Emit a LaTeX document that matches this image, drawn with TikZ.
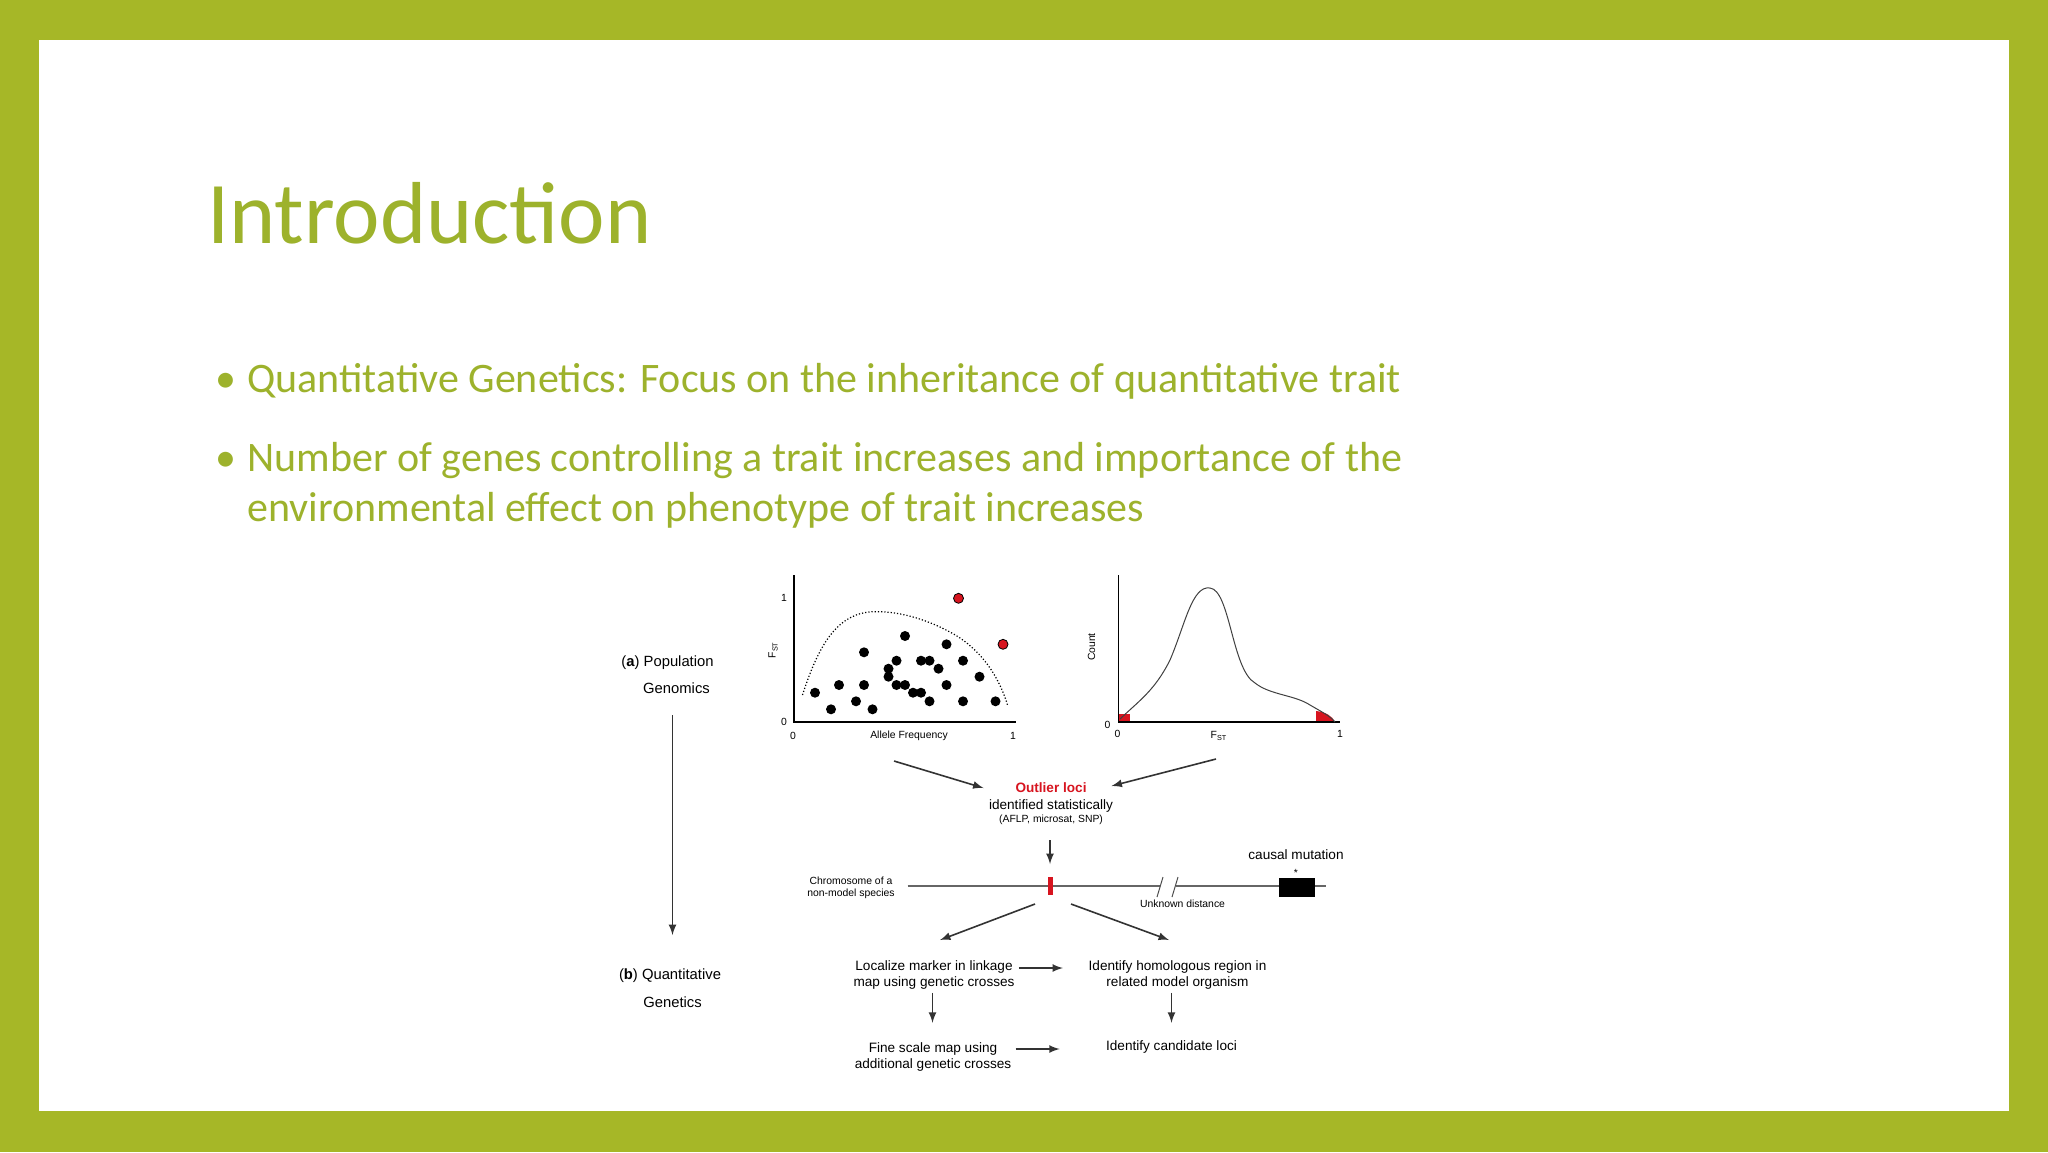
\documentclass[tikz,border=0pt]{standalone}
\usepackage{fontspec}
\setmainfont{Carlito}
\newfontfamily\arialf{Liberation Sans}
\definecolor{frame}{HTML}{A6B727}
\definecolor{gtext}{HTML}{9DB22C}
\definecolor{outred}{HTML}{D7141F}
\tikzset{
  lab/.style={font=\arialf\fontsize{6.8}{8}\selectfont, align=center, inner sep=0pt},
  small/.style={font=\arialf\fontsize{5.2}{6.2}\selectfont, align=center, inner sep=0pt},
  big/.style={font=\arialf\fontsize{7.4}{9}\selectfont, align=center, inner sep=0pt},
  arr/.style={-latex, thick, black!80},
  dot/.style={circle, fill=black, inner sep=0pt, minimum size=5pt},
  rdot/.style={circle, fill=outred, draw=black, line width=0.4pt, inner sep=0pt, minimum size=5pt},
  bul/.style={font=\fontsize{21}{25}\selectfont, text=gtext, anchor=base west, inner sep=0pt, align=left}
}
\begin{document}
\begin{tikzpicture}[x=0.5pt,y=-0.5pt]
\fill[frame] (0,0) rectangle (2048,1152);
\fill[white] (39,40) rectangle (2009,1111);
% title and bullets
\node[anchor=base west, inner sep=0pt, text=gtext, font=\fontsize{44}{50}\selectfont] (title) at (207,243) {Introduction};
\node[bul] (b1d) at (215,392) {•};
\node[bul] (b1) at (247,392) {Quantitative Genetics: Focus on the inheritance of quantitative trait};
\node[bul] (b2d) at (215,471) {•};
\node[bul] (b2) at (247,471) {Number of genes controlling a trait increases and importance of the};
\node[bul] (b2b) at (247,521) {environmental effect on phenotype of trait increases};
% left labels
\node[big] (pa) at (667.5,663) {(\textbf{a}) Population};
\node[big] (pg) at (676.5,688) {Genomics};
\node[big] (qa) at (670,976) {(\textbf{b}) Quantitative};
\node[big] (qg) at (672.5,1002) {Genetics};
\coordinate (vtop) at (672.5,715);
\coordinate (vbot) at (672.5,935);
\draw[arr] (vtop) -- (vbot);
% scatter plot
\draw[line width=0.6pt] (794,575) -- (794,722) -- (1016,722);
\node[small] (t1) at (784,598) {1};
\node[small] (t0) at (784,722) {0};
\node[small] (x0) at (793,736) {0};
\node[small] (x1) at (1013,736) {1};
\node[small] (af) at (909,736) {Allele Frequency};
\node[small, rotate=90] (fst) at (773,650) {F\textsubscript{ST}};
\draw[densely dotted, line width=0.6pt] (802.5,695) .. controls (820,640) and (840,612) .. (875,611.7) .. controls (910,611) and (945,628) .. (960,638) .. controls (985,655) and (1000,680) .. (1007.5,705);
\foreach \p in {(815,692.7),(831,709.3),(839,685),(856,701.3),(864,652.3),(864,685),(872.5,709.3),(905,636),(896.5,660.7),(888.5,668.7),(888.5,676.7),(896.5,685),(905,685),(913,692.7),(921,692.7),(921,660.7),(929.5,660.7),(929.5,701.3),(938.5,668.7),(946.5,644.3),(946.5,685),(963,660.7),(963,701.3),(979.5,676.7),(995.5,701.3)}
  \node[dot] at \p {};
\node[rdot] (r1) at (958.5,598.3) {};
\node[rdot] (r2) at (1003,644.3) {};
% histogram
\fill[outred] (1118.5,714) rectangle (1130,722);
\fill[outred] (1316,722) -- (1316,711) .. controls (1326,712) and (1332,716) .. (1335,722) -- cycle;
\draw[line width=0.6pt] (1118.5,575) -- (1118.5,722) -- (1340,722);
\draw[line width=0.5pt, black!75] (1120,719) .. controls (1140,700) and (1155,690) .. (1170,660) .. controls (1185,625) and (1192,585) .. (1210,588) .. controls (1230,590) and (1232,670) .. (1255,683) .. controls (1270,695) and (1295,695) .. (1310,705) .. controls (1322,712) and (1330,716) .. (1335,722);
\node[small, rotate=90] (cnt) at (1091.5,647) {Count};
\node[small] (h0y) at (1107.5,725) {0};
\node[small] (h0) at (1117.5,734) {0};
\node[small] (hf) at (1219,736) {F\textsubscript{ST}};
\node[small] (h1) at (1340,734) {1};
% outlier
\node[lab, text=outred, font=\arialf\bfseries\fontsize{6.8}{8}\selectfont] (ol) at (1051,788) {Outlier loci};
\node[lab] (is) at (1051,806) {identified statistically};
\node[small] (afl) at (1051,820) {(AFLP, microsat, SNP)};
\coordinate (la) at (894,761);
\coordinate (ra) at (1216,759);
\draw[arr] (la) -- (983.5,788);
\draw[arr] (ra) -- (1111.5,786);
% chromosome
\coordinate (da) at (1050,840);
\coordinate (cl) at (907.5,886);
\coordinate (cr) at (1326,886);
\draw[arr] (da) -- (1050,864);
\draw[black!60, line width=0.6pt] (cl) -- (cr);
\fill[white] (1160,880) rectangle (1176,892);
\draw[black!70, line width=0.5pt] (1157,897) -- (1163,877) (1172,897) -- (1178,877);
\fill[outred] (1047.5,877) rectangle (1052.5,895);
\fill[black] (1279,878) rectangle (1315,897);
\node[small] (star) at (1296,873) {*};
\node[lab] (cm) at (1296,855) {causal mutation};
\node[small] (chr) at (851,887.5) {Chromosome of a\\non-model species};
\node[small] (ud) at (1182.5,904) {Unknown distance};
\coordinate (s1) at (1035,904);
\coordinate (s2) at (1071,904);
% flow
\node[lab] (loc) at (934,975) {Localize marker in linkage\\map using genetic crosses};
\node[lab] (hom) at (1177.5,975) {Identify homologous region in\\related model organism};
\node[lab] (fine) at (933,1057) {Fine scale map using\\additional genetic crosses};
\node[lab] (cand) at (1171.5,1047) {Identify candidate loci};
\draw[arr] (s1) -- (940,940);
\draw[arr] (s2) -- (1169,940);
\draw[arr] (loc.east) ++(4,-7) coordinate (e1) -- ++(44,0);
\draw[arr] (fine.east) ++(4,-8) coordinate (e2) -- ++(44,0);
\draw[arr] (loc.south) ++(-1.5,3) -- ++(0,30);
\draw[arr] (hom.south) ++(-6,3) -- ++(0,30);
\end{tikzpicture}
\end{document}
